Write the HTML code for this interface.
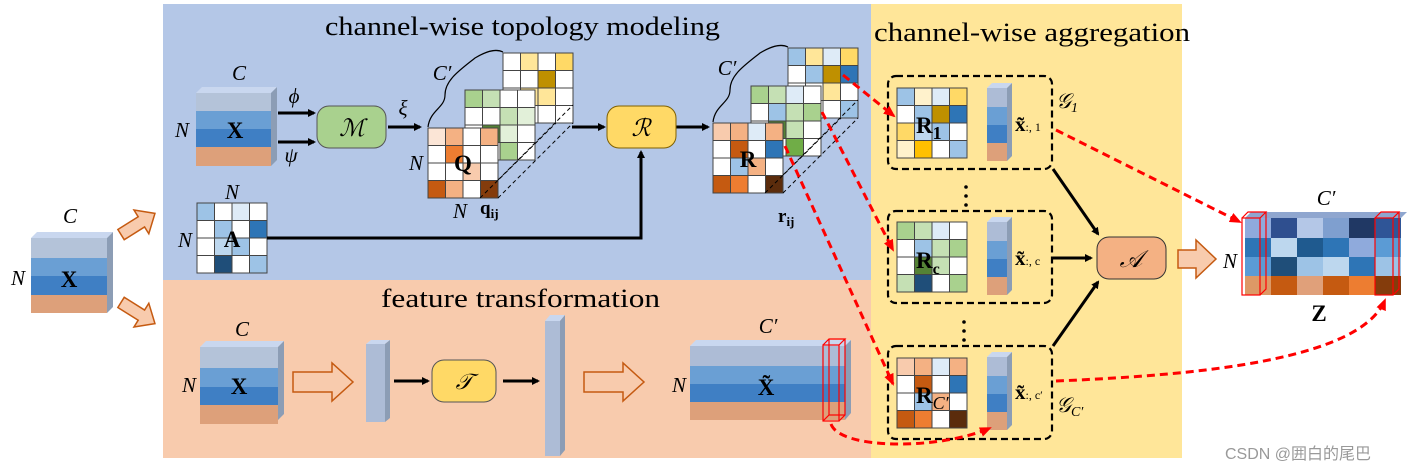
<!DOCTYPE html>
<html><head><meta charset="utf-8"><style>
html,body{margin:0;padding:0;background:#fff}
svg{display:block}
text{font-family:"Liberation Serif",serif}
</style></head><body>
<svg width="1413" height="472" viewBox="0 0 1413 472" xmlns="http://www.w3.org/2000/svg">
<defs>
<marker id="ah" markerWidth="8" markerHeight="8" refX="6" refY="4" orient="auto" markerUnits="userSpaceOnUse"><path d="M0,0 L8,4 L0,8 z" fill="#000"/></marker>
<marker id="rh" markerWidth="12" markerHeight="10" refX="10" refY="5" orient="auto" markerUnits="userSpaceOnUse"><path d="M0,0 L12,5 L0,10 z" fill="#f00"/></marker>
</defs>
<!-- panels -->
<rect x="163" y="4" width="708" height="276" fill="#b4c7e7"/>
<rect x="163" y="280" width="708" height="178" fill="#f8cbad"/>
<rect x="871" y="4" width="311" height="454" fill="#ffe699"/>

<text x="325" y="35" font-size="26" textLength="395" lengthAdjust="spacingAndGlyphs">channel-wise topology modeling</text>
<text x="381" y="307" font-size="26" textLength="279" lengthAdjust="spacingAndGlyphs">feature transformation</text>
<text x="874" y="41" font-size="26" textLength="316" lengthAdjust="spacingAndGlyphs">channel-wise  aggregation</text>

<!-- left X cube -->
<g>
<polygon points="31,238 37,232 113,232 107,238" fill="#c9d7ef"/>
<polygon points="107,238 113,232 113,307 107,313" fill="#8c9db5"/>
<rect x="31" y="238" width="76" height="20" fill="#b4c3d9"/>
<rect x="31" y="258" width="76" height="18" fill="#6a9fd4"/>
<rect x="31" y="276" width="76" height="19" fill="#3f7fc4"/>
<rect x="31" y="295" width="76" height="18" fill="#dda07a"/>
<text x="70" y="223" font-size="21" font-style="italic" text-anchor="middle">C</text>
<text x="18" y="285" font-size="21" font-style="italic" text-anchor="middle">N</text>
<text x="69" y="287" font-size="23" font-weight="bold" text-anchor="middle">X</text>
</g>
<!-- block arrows left -->
<g fill="#f8cbad" stroke="#c55a11" stroke-width="1.5">
<polygon transform="translate(138,224) rotate(-32)" points="-20,-6 4,-6 4,-14 20,0 4,14 4,6 -20,6"/>
<polygon transform="translate(138,313) rotate(32)" points="-20,-6 4,-6 4,-14 20,0 4,14 4,6 -20,6"/>
</g>

<!-- top X cube -->
<g>
<polygon points="196,93 202,87 277,87 271,93" fill="#c9d7ef"/>
<polygon points="271,93 277,87 277,160 271,166" fill="#8c9db5"/>
<rect x="196" y="93" width="75" height="18" fill="#b4c3d9"/>
<rect x="196" y="111" width="75" height="18" fill="#6a9fd4"/>
<rect x="196" y="129" width="75" height="18" fill="#3f7fc4"/>
<rect x="196" y="147" width="75" height="19" fill="#dda07a"/>
<text x="239" y="80" font-size="21" font-style="italic" text-anchor="middle">C</text>
<text x="182" y="137" font-size="21" font-style="italic" text-anchor="middle">N</text>
<text x="235" y="138" font-size="23" font-weight="bold" text-anchor="middle">X</text>
</g>
<g stroke="#000" stroke-width="3" marker-end="url(#ah)">
<line x1="278" y1="113" x2="314" y2="113"/>
<line x1="278" y1="142" x2="314" y2="142"/>
<line x1="388" y1="127" x2="420" y2="127"/>
<line x1="572" y1="127" x2="604" y2="127"/>
<line x1="676" y1="127" x2="708" y2="127"/>
</g>
<text x="294" y="103" font-size="21" font-style="italic" text-anchor="middle">ϕ</text>
<text x="291" y="162" font-size="21" font-style="italic" text-anchor="middle">ψ</text>
<text x="403" y="115" font-size="21" font-style="italic" text-anchor="middle">ξ</text>
<rect x="317" y="106" width="69" height="42" rx="12" fill="#a9d18e" stroke="#555" stroke-width="1"/>
<text x="352" y="136" font-size="24" font-style="italic" text-anchor="middle">ℳ</text>

<!-- Q stack -->
<g stroke="#444" stroke-width="1">
<g transform="translate(503,53)">
<rect x="0" y="0" width="17.5" height="17.5" fill="#fff"/><rect x="17.5" y="0" width="17.5" height="17.5" fill="#ffe699"/><rect x="35" y="0" width="17.5" height="17.5" fill="#fff"/><rect x="52.5" y="0" width="17.5" height="17.5" fill="#ffd966"/>
<rect x="0" y="17.5" width="17.5" height="17.5" fill="#fff"/><rect x="17.5" y="17.5" width="17.5" height="17.5" fill="#fff"/><rect x="35" y="17.5" width="17.5" height="17.5" fill="#bf9000"/><rect x="52.5" y="17.5" width="17.5" height="17.5" fill="#fff"/>
<rect x="0" y="35" width="17.5" height="17.5" fill="#fff"/><rect x="17.5" y="35" width="17.5" height="17.5" fill="#ffe699"/><rect x="35" y="35" width="17.5" height="17.5" fill="#ffe699"/><rect x="52.5" y="35" width="17.5" height="17.5" fill="#fff"/>
<rect x="0" y="52.5" width="17.5" height="17.5" fill="#fff"/><rect x="17.5" y="52.5" width="17.5" height="17.5" fill="#fff"/><rect x="35" y="52.5" width="17.5" height="17.5" fill="#fff"/><rect x="52.5" y="52.5" width="17.5" height="17.5" fill="#fff"/>
</g>
<g transform="translate(465,90)">
<rect x="0" y="0" width="17.5" height="17.5" fill="#a9d18e"/><rect x="17.5" y="0" width="17.5" height="17.5" fill="#c5e0b4"/><rect x="35" y="0" width="17.5" height="17.5" fill="#fff"/><rect x="52.5" y="0" width="17.5" height="17.5" fill="#fff"/>
<rect x="0" y="17.5" width="17.5" height="17.5" fill="#fff"/><rect x="17.5" y="17.5" width="17.5" height="17.5" fill="#fff"/><rect x="35" y="17.5" width="17.5" height="17.5" fill="#c5e0b4"/><rect x="52.5" y="17.5" width="17.5" height="17.5" fill="#e2f0d9"/>
<rect x="0" y="35" width="17.5" height="17.5" fill="#fff"/><rect x="17.5" y="35" width="17.5" height="17.5" fill="#548235"/><rect x="35" y="35" width="17.5" height="17.5" fill="#e2f0d9"/><rect x="52.5" y="35" width="17.5" height="17.5" fill="#fff"/>
<rect x="0" y="52.5" width="17.5" height="17.5" fill="#fff"/><rect x="17.5" y="52.5" width="17.5" height="17.5" fill="#fff"/><rect x="35" y="52.5" width="17.5" height="17.5" fill="#a9d18e"/><rect x="52.5" y="52.5" width="17.5" height="17.5" fill="#fff"/>
</g>
<g transform="translate(428,128)">
<rect x="0" y="0" width="17.5" height="17.5" fill="#fbe5d6"/><rect x="17.5" y="0" width="17.5" height="17.5" fill="#f4b183"/><rect x="35" y="0" width="17.5" height="17.5" fill="#fff"/><rect x="52.5" y="0" width="17.5" height="17.5" fill="#f4b183"/>
<rect x="0" y="17.5" width="17.5" height="17.5" fill="#fff"/><rect x="17.5" y="17.5" width="17.5" height="17.5" fill="#ed7d31"/><rect x="35" y="17.5" width="17.5" height="17.5" fill="#fff"/><rect x="52.5" y="17.5" width="17.5" height="17.5" fill="#fff"/>
<rect x="0" y="35" width="17.5" height="17.5" fill="#fff"/><rect x="17.5" y="35" width="17.5" height="17.5" fill="#fff"/><rect x="35" y="35" width="17.5" height="17.5" fill="#f8cbad"/><rect x="52.5" y="35" width="17.5" height="17.5" fill="#fff"/>
<rect x="0" y="52.5" width="17.5" height="17.5" fill="#c55a11"/><rect x="17.5" y="52.5" width="17.5" height="17.5" fill="#f4b183"/><rect x="35" y="52.5" width="17.5" height="17.5" fill="#fff"/><rect x="52.5" y="52.5" width="17.5" height="17.5" fill="#843c0c"/>
</g>
</g>
<g stroke="#000" stroke-width="1" stroke-dasharray="4,3">
<line x1="498" y1="198" x2="573" y2="123"/>
<line x1="480" y1="198" x2="556" y2="123"/>
<line x1="498" y1="180" x2="573" y2="105"/>
</g>
<path d="M428,127 C430,110 445,108 445,95 C445,80 460,70 475,58 C485,52 495,48 503,52" fill="none" stroke="#000" stroke-width="1.2"/>
<text x="442" y="80" font-size="21" font-style="italic" text-anchor="middle">C′</text>
<text x="416" y="170" font-size="21" font-style="italic" text-anchor="middle">N</text>
<text x="460" y="218" font-size="21" font-style="italic" text-anchor="middle">N</text>
<text x="463" y="171" font-size="23" font-weight="bold" text-anchor="middle">Q</text>
<text x="480" y="214" font-size="19" font-weight="bold">q<tspan font-size="13" dy="4">ij</tspan></text>

<rect x="607" y="106" width="69" height="42" rx="12" fill="#ffd966" stroke="#7f6000" stroke-width="1"/>
<text x="641" y="136" font-size="24" font-style="italic" text-anchor="middle">ℛ</text>

<!-- A matrix -->
<g stroke="#444" stroke-width="1" transform="translate(197,203)">
<rect x="0" y="0" width="17.5" height="17.5" fill="#9dc3e6"/><rect x="17.5" y="0" width="17.5" height="17.5" fill="#fff"/><rect x="35" y="0" width="17.5" height="17.5" fill="#deebf7"/><rect x="52.5" y="0" width="17.5" height="17.5" fill="#fff"/>
<rect x="0" y="17.5" width="17.5" height="17.5" fill="#fff"/><rect x="17.5" y="17.5" width="17.5" height="17.5" fill="#9dc3e6"/><rect x="35" y="17.5" width="17.5" height="17.5" fill="#fff"/><rect x="52.5" y="17.5" width="17.5" height="17.5" fill="#2e75b6"/>
<rect x="0" y="35" width="17.5" height="17.5" fill="#fff"/><rect x="17.5" y="35" width="17.5" height="17.5" fill="#bdd7ee"/><rect x="35" y="35" width="17.5" height="17.5" fill="#9dc3e6"/><rect x="52.5" y="35" width="17.5" height="17.5" fill="#fff"/>
<rect x="0" y="52.5" width="17.5" height="17.5" fill="#fff"/><rect x="17.5" y="52.5" width="17.5" height="17.5" fill="#1f4e79"/><rect x="35" y="52.5" width="17.5" height="17.5" fill="#fff"/><rect x="52.5" y="52.5" width="17.5" height="17.5" fill="#9dc3e6"/>
</g>
<text x="232" y="199" font-size="21" font-style="italic" text-anchor="middle">N</text>
<text x="185" y="247" font-size="21" font-style="italic" text-anchor="middle">N</text>
<text x="232" y="247" font-size="23" font-weight="bold" text-anchor="middle">A</text>
<polyline points="267,238 641,238 641,152" fill="none" stroke="#000" stroke-width="3" marker-end="url(#ah)"/>

<!-- R stack -->
<g stroke="#444" stroke-width="1">
<g transform="translate(788,48)">
<rect x="0" y="0" width="17.5" height="17.5" fill="#9dc3e6"/><rect x="17.5" y="0" width="17.5" height="17.5" fill="#ffe699"/><rect x="35" y="0" width="17.5" height="17.5" fill="#deebf7"/><rect x="52.5" y="0" width="17.5" height="17.5" fill="#ffd966"/>
<rect x="0" y="17.5" width="17.5" height="17.5" fill="#fff"/><rect x="17.5" y="17.5" width="17.5" height="17.5" fill="#9dc3e6"/><rect x="35" y="17.5" width="17.5" height="17.5" fill="#bf9000"/><rect x="52.5" y="17.5" width="17.5" height="17.5" fill="#2e75b6"/>
<rect x="0" y="35" width="17.5" height="17.5" fill="#fff"/><rect x="17.5" y="35" width="17.5" height="17.5" fill="#fff"/><rect x="35" y="35" width="17.5" height="17.5" fill="#ffe699"/><rect x="52.5" y="35" width="17.5" height="17.5" fill="#fff"/>
<rect x="0" y="52.5" width="17.5" height="17.5" fill="#fff"/><rect x="17.5" y="52.5" width="17.5" height="17.5" fill="#fff"/><rect x="35" y="52.5" width="17.5" height="17.5" fill="#fff"/><rect x="52.5" y="52.5" width="17.5" height="17.5" fill="#9dc3e6"/>
</g>
<g transform="translate(751,86)">
<rect x="0" y="0" width="17.5" height="17.5" fill="#a9d18e"/><rect x="17.5" y="0" width="17.5" height="17.5" fill="#c5e0b4"/><rect x="35" y="0" width="17.5" height="17.5" fill="#deebf7"/><rect x="52.5" y="0" width="17.5" height="17.5" fill="#fff"/>
<rect x="0" y="17.5" width="17.5" height="17.5" fill="#fff"/><rect x="17.5" y="17.5" width="17.5" height="17.5" fill="#9dc3e6"/><rect x="35" y="17.5" width="17.5" height="17.5" fill="#c5e0b4"/><rect x="52.5" y="17.5" width="17.5" height="17.5" fill="#a9d18e"/>
<rect x="0" y="35" width="17.5" height="17.5" fill="#fff"/><rect x="17.5" y="35" width="17.5" height="17.5" fill="#548235"/><rect x="35" y="35" width="17.5" height="17.5" fill="#c5e0b4"/><rect x="52.5" y="35" width="17.5" height="17.5" fill="#fff"/>
<rect x="0" y="52.5" width="17.5" height="17.5" fill="#fff"/><rect x="17.5" y="52.5" width="17.5" height="17.5" fill="#fff"/><rect x="35" y="52.5" width="17.5" height="17.5" fill="#70ad47"/><rect x="52.5" y="52.5" width="17.5" height="17.5" fill="#fff"/>
</g>
<g transform="translate(713,123)">
<rect x="0" y="0" width="17.5" height="17.5" fill="#f8cbad"/><rect x="17.5" y="0" width="17.5" height="17.5" fill="#f4b183"/><rect x="35" y="0" width="17.5" height="17.5" fill="#deebf7"/><rect x="52.5" y="0" width="17.5" height="17.5" fill="#f4b183"/>
<rect x="0" y="17.5" width="17.5" height="17.5" fill="#fff"/><rect x="17.5" y="17.5" width="17.5" height="17.5" fill="#c55a11"/><rect x="35" y="17.5" width="17.5" height="17.5" fill="#fff"/><rect x="52.5" y="17.5" width="17.5" height="17.5" fill="#2e75b6"/>
<rect x="0" y="35" width="17.5" height="17.5" fill="#fff"/><rect x="17.5" y="35" width="17.5" height="17.5" fill="#9dc3e6"/><rect x="35" y="35" width="17.5" height="17.5" fill="#f4b183"/><rect x="52.5" y="35" width="17.5" height="17.5" fill="#fff"/>
<rect x="0" y="52.5" width="17.5" height="17.5" fill="#c55a11"/><rect x="17.5" y="52.5" width="17.5" height="17.5" fill="#ed7d31"/><rect x="35" y="52.5" width="17.5" height="17.5" fill="#fff"/><rect x="52.5" y="52.5" width="17.5" height="17.5" fill="#5b2c0c"/>
</g>
</g>
<g stroke="#000" stroke-width="1" stroke-dasharray="4,3">
<line x1="783" y1="193" x2="858" y2="118"/>
<line x1="765" y1="193" x2="841" y2="118"/>
<line x1="783" y1="175" x2="858" y2="100"/>
</g>
<path d="M713,122 C715,105 730,103 730,90 C730,75 745,65 760,53 C770,47 780,43 788,47" fill="none" stroke="#000" stroke-width="1.2"/>
<text x="727" y="75" font-size="21" font-style="italic" text-anchor="middle">C′</text>
<text x="748" y="167" font-size="23" font-weight="bold" text-anchor="middle">R</text>
<text x="778" y="222" font-size="19" font-weight="bold">r<tspan font-size="13" dy="4">ij</tspan></text>

<!-- feature transformation -->
<g>
<polygon points="200,347 206,341 284,341 278,347" fill="#c9d7ef"/>
<polygon points="278,347 284,341 284,414 278,420" fill="#8c9db5"/>
<rect x="200" y="347" width="78" height="21" fill="#b4c3d9"/>
<rect x="200" y="368" width="78" height="19" fill="#6a9fd4"/>
<rect x="200" y="387" width="78" height="18" fill="#3f7fc4"/>
<rect x="200" y="405" width="78" height="19" fill="#dda07a"/>
<text x="242" y="336" font-size="21" font-style="italic" text-anchor="middle">C</text>
<text x="189" y="392" font-size="21" font-style="italic" text-anchor="middle">N</text>
<text x="239" y="394" font-size="23" font-weight="bold" text-anchor="middle">X</text>
</g>
<g fill="#f8cbad" stroke="#c55a11" stroke-width="1.5">
<polygon points="293,372 332,372 332,363 353,382 332,401 332,392 293,392"/>
<polygon points="584,372 623,372 623,363 644,382 623,401 623,392 584,392"/>
<polygon points="1178,250 1196,250 1196,240 1216,259 1196,278 1196,268 1178,268"/>
</g>
<polygon points="366,344 371,340 390,340 385,344" fill="#c9d7ef"/>
<polygon points="385,344 390,340 390,418 385,422" fill="#8c9db5"/>
<rect x="366" y="344" width="19" height="78" fill="#adbcd6"/>
<polygon points="545,321 550,315 565,315 560,321" fill="#c9d7ef"/>
<polygon points="560,321 565,315 565,450 560,456" fill="#8c9db5"/>
<rect x="545" y="321" width="15" height="135" fill="#adbcd6"/>
<g stroke="#000" stroke-width="3" marker-end="url(#ah)">
<line x1="394" y1="381" x2="428" y2="381"/>
<line x1="503" y1="381" x2="538" y2="381"/>
</g>
<rect x="432" y="360" width="64" height="42" rx="12" fill="#ffd966" stroke="#555" stroke-width="1"/>
<text x="464" y="389" font-size="22" font-style="italic" text-anchor="middle">𝒯</text>

<g>
<polygon points="690,346 696,340 851,340 845,346" fill="#c9d7ef"/>
<polygon points="845,346 851,340 851,413 845,420" fill="#8c9db5"/>
<rect x="690" y="346" width="155" height="20" fill="#adbcd6"/>
<rect x="690" y="366" width="155" height="18" fill="#6a9fd4"/>
<rect x="690" y="384" width="155" height="18" fill="#3f7fc4"/>
<rect x="690" y="402" width="155" height="18" fill="#dda07a"/>
<text x="768" y="333" font-size="21" font-style="italic" text-anchor="middle">C′</text>
<text x="679" y="392" font-size="21" font-style="italic" text-anchor="middle">N</text>
<text x="766" y="395" font-size="23" font-weight="bold" text-anchor="middle">X̃</text>
<g fill="none" stroke="#f00" stroke-width="1.2">
<rect x="823" y="345" width="16" height="76"/>
<polyline points="823,345 829,339 845,339 839,345"/>
<polyline points="845,339 845,415 839,421"/>
<line x1="829" y1="339" x2="829" y2="415"/><line x1="823" y1="421" x2="829" y2="415"/><line x1="829" y1="415" x2="845" y2="415"/>
</g>
</g>

<!-- aggregation boxes -->
<g fill="none" stroke="#000" stroke-width="2.2" stroke-dasharray="7,4">
<rect x="888" y="76" width="164" height="93" rx="8"/>
<rect x="888" y="211" width="164" height="92" rx="8"/>
<rect x="888" y="346" width="164" height="93" rx="8"/>
</g>
<g fill="#000">
<circle cx="966" cy="187" r="1.8"/><circle cx="966" cy="196" r="1.8"/><circle cx="966" cy="205" r="1.8"/>
<circle cx="964" cy="322" r="1.8"/><circle cx="964" cy="331" r="1.8"/><circle cx="964" cy="340" r="1.8"/>
</g>
<g stroke="#444" stroke-width="1">
<g transform="translate(897,88)">
<rect x="0" y="0" width="17.5" height="17.5" fill="#9dc3e6"/><rect x="17.5" y="0" width="17.5" height="17.5" fill="#fff2cc"/><rect x="35" y="0" width="17.5" height="17.5" fill="#deebf7"/><rect x="52.5" y="0" width="17.5" height="17.5" fill="#ffd966"/>
<rect x="0" y="17.5" width="17.5" height="17.5" fill="#fff"/><rect x="17.5" y="17.5" width="17.5" height="17.5" fill="#9dc3e6"/><rect x="35" y="17.5" width="17.5" height="17.5" fill="#bf9000"/><rect x="52.5" y="17.5" width="17.5" height="17.5" fill="#2e75b6"/>
<rect x="0" y="35" width="17.5" height="17.5" fill="#ffd966"/><rect x="17.5" y="35" width="17.5" height="17.5" fill="#bdd7ee"/><rect x="35" y="35" width="17.5" height="17.5" fill="#9dc3e6"/><rect x="52.5" y="35" width="17.5" height="17.5" fill="#fff"/>
<rect x="0" y="52.5" width="17.5" height="17.5" fill="#fff2cc"/><rect x="17.5" y="52.5" width="17.5" height="17.5" fill="#ffc000"/><rect x="35" y="52.5" width="17.5" height="17.5" fill="#fff"/><rect x="52.5" y="52.5" width="17.5" height="17.5" fill="#9dc3e6"/>
</g>
<g transform="translate(897,222)">
<rect x="0" y="0" width="17.5" height="17.5" fill="#a9d18e"/><rect x="17.5" y="0" width="17.5" height="17.5" fill="#c5e0b4"/><rect x="35" y="0" width="17.5" height="17.5" fill="#deebf7"/><rect x="52.5" y="0" width="17.5" height="17.5" fill="#fff"/>
<rect x="0" y="17.5" width="17.5" height="17.5" fill="#fff"/><rect x="17.5" y="17.5" width="17.5" height="17.5" fill="#9dc3e6"/><rect x="35" y="17.5" width="17.5" height="17.5" fill="#c5e0b4"/><rect x="52.5" y="17.5" width="17.5" height="17.5" fill="#a9d18e"/>
<rect x="0" y="35" width="17.5" height="17.5" fill="#fff"/><rect x="17.5" y="35" width="17.5" height="17.5" fill="#548235"/><rect x="35" y="35" width="17.5" height="17.5" fill="#c5e0b4"/><rect x="52.5" y="35" width="17.5" height="17.5" fill="#fff"/>
<rect x="0" y="52.5" width="17.5" height="17.5" fill="#c5e0b4"/><rect x="17.5" y="52.5" width="17.5" height="17.5" fill="#1f4e79"/><rect x="35" y="52.5" width="17.5" height="17.5" fill="#fff"/><rect x="52.5" y="52.5" width="17.5" height="17.5" fill="#a9d18e"/>
</g>
<g transform="translate(897,358)">
<rect x="0" y="0" width="17.5" height="17.5" fill="#f8cbad"/><rect x="17.5" y="0" width="17.5" height="17.5" fill="#f4b183"/><rect x="35" y="0" width="17.5" height="17.5" fill="#deebf7"/><rect x="52.5" y="0" width="17.5" height="17.5" fill="#f4b183"/>
<rect x="0" y="17.5" width="17.5" height="17.5" fill="#fff"/><rect x="17.5" y="17.5" width="17.5" height="17.5" fill="#c55a11"/><rect x="35" y="17.5" width="17.5" height="17.5" fill="#fff"/><rect x="52.5" y="17.5" width="17.5" height="17.5" fill="#2e75b6"/>
<rect x="0" y="35" width="17.5" height="17.5" fill="#fff"/><rect x="17.5" y="35" width="17.5" height="17.5" fill="#9dc3e6"/><rect x="35" y="35" width="17.5" height="17.5" fill="#f4b183"/><rect x="52.5" y="35" width="17.5" height="17.5" fill="#fff"/>
<rect x="0" y="52.5" width="17.5" height="17.5" fill="#c55a11"/><rect x="17.5" y="52.5" width="17.5" height="17.5" fill="#ed7d31"/><rect x="35" y="52.5" width="17.5" height="17.5" fill="#fff"/><rect x="52.5" y="52.5" width="17.5" height="17.5" fill="#5b2c0c"/>
</g>
</g>
<text x="916" y="133" font-size="23" font-weight="bold">R<tspan font-size="18" dy="6">1</tspan></text>
<text x="916" y="268" font-size="23" font-weight="bold">R<tspan font-size="16" dy="6">c</tspan></text>
<text x="916" y="403" font-size="23" font-weight="bold">R<tspan font-size="18" font-style="italic" font-weight="normal" dy="6">C′</tspan></text>

<!-- small columns -->
<g>
<polygon points="987,88 992,83 1012,83 1007,88" fill="#c9d7ef"/><polygon points="1007,88 1012,83 1012,156 1007,161" fill="#8c9db5"/>
<rect x="987" y="88" width="20" height="19" fill="#adbcd6"/><rect x="987" y="107" width="20" height="18" fill="#6a9fd4"/><rect x="987" y="125" width="20" height="18" fill="#3f7fc4"/><rect x="987" y="143" width="20" height="18" fill="#dda07a"/>
<polygon points="987,222 992,217 1012,217 1007,222" fill="#c9d7ef"/><polygon points="1007,222 1012,217 1012,290 1007,295" fill="#8c9db5"/>
<rect x="987" y="222" width="20" height="19" fill="#adbcd6"/><rect x="987" y="241" width="20" height="18" fill="#6a9fd4"/><rect x="987" y="259" width="20" height="18" fill="#3f7fc4"/><rect x="987" y="277" width="20" height="18" fill="#dda07a"/>
<polygon points="987,357 992,352 1012,352 1007,357" fill="#c9d7ef"/><polygon points="1007,357 1012,352 1012,425 1007,430" fill="#8c9db5"/>
<rect x="987" y="357" width="20" height="19" fill="#adbcd6"/><rect x="987" y="376" width="20" height="18" fill="#6a9fd4"/><rect x="987" y="394" width="20" height="18" fill="#3f7fc4"/><rect x="987" y="412" width="20" height="18" fill="#dda07a"/>
</g>
<text x="1015" y="131" font-size="21" font-weight="bold">x̃<tspan font-size="12" font-weight="normal">:, 1</tspan></text>
<text x="1015" y="265" font-size="21" font-weight="bold">x̃<tspan font-size="12" font-weight="normal">:, c</tspan></text>
<text x="1015" y="399" font-size="21" font-weight="bold">x̃<tspan font-size="12" font-weight="normal">:, c′</tspan></text>
<text x="1056" y="108" font-size="21" font-style="italic">𝒢<tspan font-size="14" dy="4">1</tspan></text>
<text x="1056" y="412" font-size="21" font-style="italic">𝒢<tspan font-size="14" dy="4">C′</tspan></text>

<g stroke="#000" stroke-width="3" marker-end="url(#ah)">
<line x1="1053" y1="169" x2="1098" y2="234"/>
<line x1="1053" y1="258" x2="1091" y2="258"/>
<line x1="1053" y1="346" x2="1098" y2="282"/>
</g>
<rect x="1097" y="237" width="69" height="42" rx="12" fill="#f4b183" stroke="#333" stroke-width="1"/>
<text x="1131" y="267" font-size="24" font-style="italic" text-anchor="middle">𝒜</text>

<!-- Z -->
<g>
<g>
<rect x="1245" y="218" width="26" height="20" fill="#8faadc"/><rect x="1271" y="218" width="26" height="20" fill="#2f4f8f"/><rect x="1297" y="218" width="26" height="20" fill="#b4c7e7"/><rect x="1323" y="218" width="26" height="20" fill="#7f9fcf"/><rect x="1349" y="218" width="26" height="20" fill="#203864"/><rect x="1375" y="218" width="26" height="20" fill="#2f5597"/>
<rect x="1245" y="238" width="26" height="19" fill="#2e75b6"/><rect x="1271" y="238" width="26" height="19" fill="#bdd7ee"/><rect x="1297" y="238" width="26" height="19" fill="#1f5a8f"/><rect x="1323" y="238" width="26" height="19" fill="#2e75b6"/><rect x="1349" y="238" width="26" height="19" fill="#8faadc"/><rect x="1375" y="238" width="26" height="19" fill="#5b9bd5"/>
<rect x="1245" y="257" width="26" height="19" fill="#5b9bd5"/><rect x="1271" y="257" width="26" height="19" fill="#1f4e79"/><rect x="1297" y="257" width="26" height="19" fill="#9dc3e6"/><rect x="1323" y="257" width="26" height="19" fill="#bdd7ee"/><rect x="1349" y="257" width="26" height="19" fill="#2e75b6"/><rect x="1375" y="257" width="26" height="19" fill="#9dc3e6"/>
<rect x="1245" y="276" width="26" height="19" fill="#dd9966"/><rect x="1271" y="276" width="26" height="19" fill="#c55a11"/><rect x="1297" y="276" width="26" height="19" fill="#e0a07a"/><rect x="1323" y="276" width="26" height="19" fill="#c55a11"/><rect x="1349" y="276" width="26" height="19" fill="#ed7d31"/><rect x="1375" y="276" width="26" height="19" fill="#843c0c"/>
</g>
<polygon points="1245,218 1251,212 1407,212 1401,218" fill="#8fa6cf"/>
<g fill="none" stroke="#f00" stroke-width="1.2">
<rect x="1242" y="218" width="18" height="77"/><polyline points="1242,218 1248,212 1266,212 1260,218"/><polyline points="1266,212 1266,289 1260,295"/>
<rect x="1375" y="218" width="18" height="77"/><polyline points="1375,218 1381,212 1399,212 1393,218"/><polyline points="1399,212 1399,289 1393,295"/>
</g>
<text x="1326" y="205" font-size="21" font-style="italic" text-anchor="middle">C′</text>
<text x="1230" y="268" font-size="21" font-style="italic" text-anchor="middle">N</text>
<text x="1319" y="321" font-size="23" font-weight="bold" text-anchor="middle">Z</text>
</g>

<!-- red dashed -->
<g fill="none" stroke="#f00" stroke-width="3" stroke-dasharray="8,5" marker-end="url(#rh)">
<line x1="843" y1="75" x2="894" y2="116"/>
<line x1="822" y1="112" x2="893" y2="250"/>
<line x1="785" y1="146" x2="893" y2="384"/>
<line x1="1056" y1="130" x2="1240" y2="222"/>
<path d="M1056,381 C1200,375 1360,360 1385,300"/>
<path d="M831,424 C840,450 940,450 990,428"/>
</g>
<text x="1225" y="459" font-size="16" fill="#999" style="font-family:'Liberation Sans','Noto Sans CJK SC',sans-serif">CSDN @囲白的尾巴</text>
</svg>
</body></html>
